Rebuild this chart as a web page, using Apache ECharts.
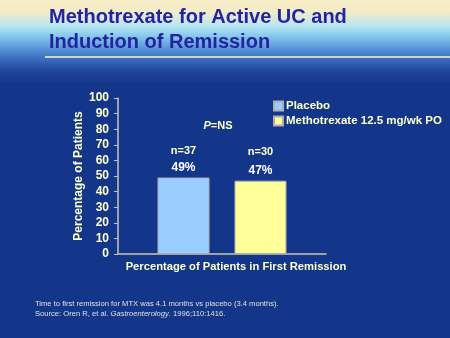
<!DOCTYPE html>
<html><head><meta charset="utf-8">
<script src="https://cdn.jsdelivr.net/npm/echarts@6/dist/echarts.min.js"></script>
<style>
html,body{margin:0;padding:0;}
#c{width:450px;height:338px;background:linear-gradient(to bottom,#f8edc6 0px,#f2ecc8 12px,#b8e6f2 26px,#86c8ec 36px,#5a98d8 48px,#3868bc 60px,#1f4498 72px,#14368a 84px,#13368a 100%);}
</style></head><body>
<div id="c"></div>
<script>
var categories = ['Percentage of Patients in First Remission'];
var seriesNames = ['Placebo', 'Methotrexate 12.5 mg/wk PO'];
var placeboValues = [49];
var mtxValues = [47];
var placeboN = ['n=37'];
var mtxN = ['n=30'];
var yTicks = [0,10,20,30,40,50,60,70,80,90,100];

var FONT = 'Liberation Sans';
var CREAM = '#ffffc8';
var chart = echarts.init(document.getElementById('c'));
function lbl(nArr, lh){
  return {
    show:true, position:'top', distance:3,
    formatter:function(p){return '{n|'+nArr[p.dataIndex]+'}\n{v|'+p.value+'%}';},
    rich:{
      n:{fontFamily:FONT,fontSize:11,fontWeight:'bold',color:CREAM,lineHeight:lh},
      v:{fontFamily:FONT,fontSize:12,fontWeight:'bold',color:'#ffffff',lineHeight:14}
    }
  };
}
chart.setOption({
  animation:false,
  backgroundColor:'transparent',
  grid:{left:118,right:124,top:98,bottom:84,containLabel:false},
  legend:{
    orient:'vertical', left:268, top:95, itemWidth:9, itemHeight:9, itemGap:3,
    icon:'rect',
    textStyle:{fontFamily:FONT,fontSize:11.5,fontWeight:'bold',color:CREAM,padding:[0,0,0,-2]},
    data:seriesNames
  },
  xAxis:{
    type:'category', data:categories,
    axisLine:{lineStyle:{color:'#c8c8b0',width:1.5}},
    axisTick:{show:false},
    axisLabel:{fontFamily:FONT,fontSize:11.2,fontWeight:'bold',color:CREAM,margin:7,padding:[0,0,0,28]}
  },
  yAxis:{
    type:'value', min:0, max:100, interval:10,
    name:'Percentage of Patients', nameLocation:'middle', nameGap:32, nameRotate:90,
    nameTextStyle:{fontFamily:FONT,fontSize:12,fontWeight:'bold',color:CREAM},
    axisLine:{show:true,lineStyle:{color:'#c8c8b0',width:1.5}},
    axisTick:{show:true,length:4,lineStyle:{color:'#c8c8b0'}},
    splitLine:{show:false},
    axisLabel:{fontFamily:FONT,fontSize:12,fontWeight:'bold',color:CREAM,margin:9,
      formatter:function(v){return yTicks.indexOf(v)>=0?String(v):'';}}
  },
  series:[
    {name:seriesNames[0],type:'bar',data:placeboValues,barWidth:52,barGap:'48%',
     itemStyle:{color:'#99ccff',borderColor:'#b0b0b0',borderWidth:1},label:lbl(placeboN,20)},
    {name:seriesNames[1],type:'bar',data:mtxValues,barWidth:52,
     itemStyle:{color:'#ffff99',borderColor:'#b0b0b0',borderWidth:1},label:lbl(mtxN,24)}
  ],
  graphic:[
    {type:'text',left:49,top:5,style:{text:'Methotrexate for Active UC and\nInduction of Remission',
      fontFamily:FONT,fontSize:20,fontWeight:'bold',fill:'#2424a0',lineHeight:25}},
    {type:'line',shape:{x1:45,y1:57,x2:450,y2:57},style:{stroke:'#fff4c4',lineWidth:1.5}},
    {type:'text',x:218,y:126,style:{text:'{i|P}{r|=NS}',align:'center',verticalAlign:'middle',
      rich:{i:{fontFamily:FONT,fontSize:11,fontWeight:'bold',fontStyle:'italic',fill:CREAM},
            r:{fontFamily:FONT,fontSize:11,fontWeight:'bold',fill:CREAM}}}},
    {type:'text',x:35,y:304,style:{text:'Time to first remission for MTX was 4.1 months vs placebo (3.4 months).',
      fontFamily:FONT,fontSize:7.6,fill:'#e0e0d8',verticalAlign:'middle'}},
    {type:'text',x:35,y:314,style:{text:'{a|Source: Oren R, et al. }{b|Gastroenterology}{a|. 1996;110:1416.}',verticalAlign:'middle',
      rich:{a:{fontFamily:FONT,fontSize:7.6,fill:'#e0e0d8'},b:{fontFamily:FONT,fontSize:7.6,fontStyle:'italic',fill:'#e0e0d8'}}}}
  ]
});
</script></body></html>
